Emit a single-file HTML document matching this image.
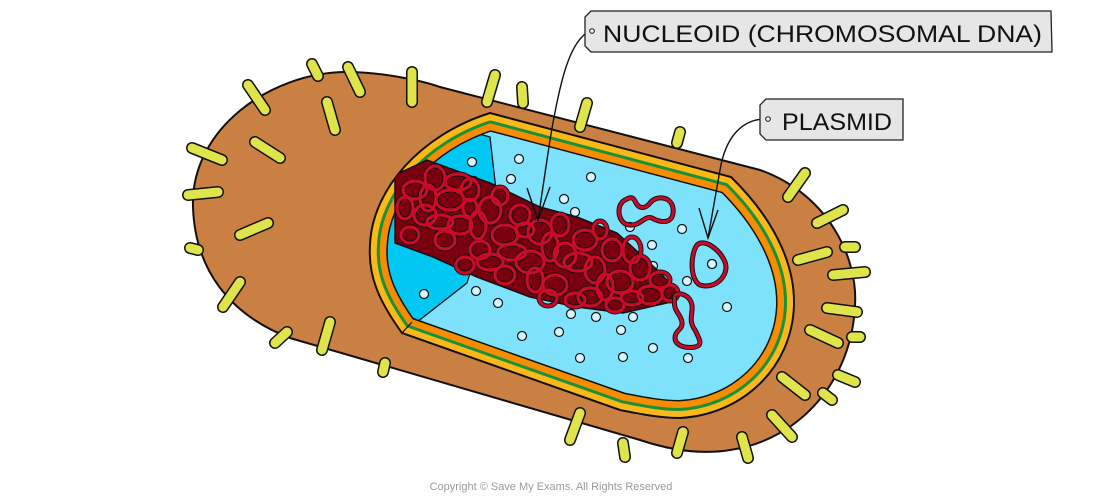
<!DOCTYPE html>
<html><head><meta charset="utf-8"><style>
html,body{margin:0;padding:0;background:#fff;width:1100px;height:499px;overflow:hidden}
svg{display:block}
</style></head><body>
<svg width="1100" height="499" viewBox="0 0 1100 499" xmlns="http://www.w3.org/2000/svg">
<defs>
<clipPath id="cut"><path id="cutp" d="M490,113 L731,177 C770,215 795,260 794,305 C792,370 740,415 680,418 C660,418 640,414 620,410 L402,333 C378,300 368,275 370,245 C372,190 420,135 490,113 Z"/></clipPath>
<g id="pl" stroke-linecap="round">
<line x1="312" y1="64" x2="318" y2="76"/><line x1="348" y1="67" x2="360" y2="92"/><line x1="412" y1="72" x2="412" y2="102"/>
<line x1="248" y1="85" x2="265" y2="110"/><line x1="327" y1="102" x2="335" y2="130"/><line x1="255" y1="142" x2="280" y2="158"/>
<line x1="192" y1="148" x2="222" y2="160"/><line x1="188" y1="195" x2="218" y2="192"/><line x1="240" y1="235" x2="268" y2="223"/>
<line x1="190" y1="248" x2="198" y2="250"/><line x1="223" y1="307" x2="240" y2="282"/><line x1="275" y1="343" x2="287" y2="332"/>
<line x1="322" y1="350" x2="330" y2="322"/><line x1="383" y1="372" x2="385" y2="363"/><line x1="487" y1="102" x2="495" y2="75"/>
<line x1="522" y1="87" x2="523" y2="103"/><line x1="580" y1="127" x2="587" y2="103"/><line x1="677" y1="143" x2="680" y2="132"/>
<line x1="788" y1="197" x2="805" y2="173"/><line x1="817" y1="223" x2="843" y2="210"/><line x1="845" y1="247" x2="855" y2="247"/>
<line x1="798" y1="260" x2="827" y2="252"/><line x1="833" y1="275" x2="865" y2="272"/><line x1="827" y1="308" x2="857" y2="312"/>
<line x1="852" y1="337" x2="860" y2="337"/><line x1="810" y1="330" x2="838" y2="343"/><line x1="838" y1="375" x2="855" y2="382"/>
<line x1="782" y1="377" x2="805" y2="395"/><line x1="823" y1="393" x2="832" y2="400"/><line x1="772" y1="415" x2="792" y2="437"/>
<line x1="742" y1="437" x2="748" y2="458"/><line x1="683" y1="432" x2="677" y2="453"/><line x1="580" y1="413" x2="570" y2="440"/>
<line x1="623" y1="443" x2="625" y2="457"/>
</g>
<g id="loops" fill="none">
<ellipse cx="415" cy="190" rx="12" ry="9"/><ellipse cx="435" cy="178" rx="10" ry="12"/><ellipse cx="450" cy="200" rx="14" ry="10"/>
<ellipse cx="425" cy="215" rx="11" ry="10"/><ellipse cx="470" cy="190" rx="9" ry="11"/><ellipse cx="460" cy="225" rx="12" ry="9"/>
<ellipse cx="490" cy="210" rx="11" ry="13"/><ellipse cx="505" cy="235" rx="13" ry="10"/><ellipse cx="480" cy="250" rx="10" ry="9"/>
<ellipse cx="520" cy="215" rx="10" ry="10"/><ellipse cx="540" cy="232" rx="12" ry="12"/><ellipse cx="530" cy="262" rx="14" ry="11"/>
<ellipse cx="560" cy="225" rx="9" ry="11"/><ellipse cx="565" cy="255" rx="11" ry="12"/><ellipse cx="555" cy="285" rx="12" ry="10"/>
<ellipse cx="585" cy="240" rx="12" ry="10"/><ellipse cx="595" cy="270" rx="10" ry="13"/><ellipse cx="590" cy="297" rx="12" ry="9"/>
<ellipse cx="612" cy="250" rx="10" ry="11"/><ellipse cx="620" cy="282" rx="13" ry="11"/><ellipse cx="640" cy="268" rx="10" ry="12"/>
<ellipse cx="650" cy="295" rx="12" ry="9"/><ellipse cx="670" cy="293" rx="8" ry="8"/><ellipse cx="505" cy="275" rx="10" ry="9"/>
<ellipse cx="445" cy="240" rx="10" ry="9"/><ellipse cx="410" cy="235" rx="9" ry="8"/><ellipse cx="500" cy="196" rx="8" ry="9"/>
<ellipse cx="548" cy="298" rx="9" ry="8"/><ellipse cx="615" cy="305" rx="9" ry="7"/><ellipse cx="465" cy="265" rx="9" ry="8"/>
<ellipse cx="428" cy="198" rx="8" ry="13"/><ellipse cx="458" cy="182" rx="13" ry="8"/><ellipse cx="478" cy="225" rx="8" ry="14"/>
<ellipse cx="512" cy="252" rx="14" ry="8"/><ellipse cx="550" cy="247" rx="8" ry="14"/><ellipse cx="578" cy="262" rx="14" ry="9"/>
<ellipse cx="605" cy="287" rx="8" ry="13"/><ellipse cx="632" cy="250" rx="9" ry="13"/><ellipse cx="660" cy="280" rx="10" ry="8"/>
<ellipse cx="535" cy="280" rx="8" ry="12"/><ellipse cx="490" cy="262" rx="13" ry="8"/><ellipse cx="440" cy="222" rx="13" ry="7"/>
<ellipse cx="575" cy="300" rx="10" ry="7"/><ellipse cx="525" cy="230" rx="9" ry="7"/><ellipse cx="405" cy="208" rx="8" ry="11"/>
<ellipse cx="632" cy="298" rx="11" ry="7"/><ellipse cx="600" cy="230" rx="7" ry="9"/><ellipse cx="470" cy="208" rx="7" ry="9"/>
</g>
<g id="pls" fill="none">
<path d="M625,200 C615,205 618,225 630,225 C640,226 645,215 652,218 C660,223 675,225 673,208 C671,196 656,195 650,203 C646,208 640,210 636,203 C633,196 630,197 625,200 Z"/>
<path d="M697,245 C690,255 690,280 700,285 C715,290 730,275 725,262 C720,250 705,238 697,245 Z"/>
<path d="M675,295 C680,292 690,295 692,305 C693,315 688,320 695,330 C700,340 703,345 695,347 C685,349 675,345 675,338 C675,330 683,330 682,322 C680,312 672,312 675,295"/>
</g>
</defs>
<!-- cell body -->
<path d="M193,207 C190,130 270,72 347,72 C380,72 420,80 440,87 L760,170 C830,195 858,260 855,305 C852,380 800,440 730,450 C700,455 670,450 640,440 L290,338 C230,315 195,270 193,207 Z" fill="#cb8043" stroke="#111" stroke-width="2"/>
<!-- pili -->
<use href="#pl" stroke="#111" stroke-width="12"/>
<use href="#pl" stroke="#dfe44a" stroke-width="9"/>
<!-- cut -->
<g clip-path="url(#cut)">
<rect x="360" y="100" width="450" height="330" fill="#7ee2fc"/>
<polygon points="360,100 490,137 496,190 467,283 403,333 360,340" fill="#00c8f2" stroke="#111" stroke-width="1.3"/>
<use href="#cutp" fill="none" stroke="#111" stroke-width="36"/>
<use href="#cutp" fill="none" stroke="#f68d00" stroke-width="33"/>
<use href="#cutp" fill="none" stroke="#17913a" stroke-width="20"/>
<use href="#cutp" fill="none" stroke="#fbb818" stroke-width="14"/>
</g>
<use href="#cutp" fill="none" stroke="#111" stroke-width="2"/>
<line x1="402" y1="333" x2="412" y2="322" stroke="#111" stroke-width="1.3"/>
<!-- ribosomes -->
<g fill="#d6f6ff" stroke="#111" stroke-width="1.2">
<circle cx="472" cy="162" r="4.5"/><circle cx="519" cy="159" r="4.5"/><circle cx="511" cy="179" r="4.5"/><circle cx="474" cy="181" r="4.5"/>
<circle cx="591" cy="177" r="4.5"/><circle cx="564" cy="199" r="4.5"/><circle cx="575" cy="212" r="4.5"/><circle cx="682" cy="229" r="4.5"/>
<circle cx="652" cy="245" r="4.5"/><circle cx="653" cy="266" r="4.5"/><circle cx="687" cy="281" r="4.5"/><circle cx="712" cy="264" r="4.5"/>
<circle cx="727" cy="307" r="4.5"/><circle cx="424" cy="294" r="4.5"/><circle cx="476" cy="291" r="4.5"/><circle cx="498" cy="303" r="4.5"/>
<circle cx="571" cy="314" r="4.5"/><circle cx="596" cy="317" r="4.5"/><circle cx="633" cy="317" r="4.5"/><circle cx="559" cy="332" r="4.5"/>
<circle cx="621" cy="330" r="4.5"/><circle cx="522" cy="336" r="4.5"/><circle cx="580" cy="358" r="4.5"/><circle cx="623" cy="357" r="4.5"/>
<circle cx="653" cy="348" r="4.5"/><circle cx="688" cy="358" r="4.5"/><circle cx="630" cy="227" r="4.5"/>
</g>
<!-- nucleoid -->
<g clip-path="url(#cut)">
<path d="M395,175 L427,160 L490,183 L540,207 L577,217 L617,233 L650,263 L677,290 L667,303 L623,313 L577,307 L530,297 L477,277 L433,257 L395,243 Z" fill="#7a0010" stroke="#111" stroke-width="1.5"/>
<use href="#loops" stroke="#111" stroke-width="5"/>
<use href="#loops" stroke="#cc0a28" stroke-width="3.2"/>
</g>
<!-- plasmids -->
<use href="#pls" stroke="#111" stroke-width="5"/>
<use href="#pls" stroke="#cc0a28" stroke-width="3"/>
<circle cx="712" cy="264" r="4.5" fill="#d6f6ff" stroke="#111" stroke-width="1.2"/>
<!-- labels -->
<g stroke="#111" stroke-width="1.4" fill="none">
<path d="M590,31 C570,40 560,80 550,140 L538,220"/>
<path d="M527,188 L538,220 L550,187"/>
<path d="M768,119 C740,118 725,140 720,170 L708,238"/>
<path d="M699,208 L708,238 L718,210"/>
</g>
<path d="M591,11 L1051,11 L1052,52 L591,52 L585,46 L585,17 Z" fill="#e6e6e6" stroke="#222" stroke-width="1.3"/>
<circle cx="592" cy="31" r="2.3" fill="#fff" stroke="#111" stroke-width="1"/>
<text x="603" y="42" font-family="Liberation Sans, sans-serif" font-size="24" fill="#111" textLength="439" lengthAdjust="spacingAndGlyphs">NUCLEOID (CHROMOSOMAL DNA)</text>
<path d="M766,99 L903,99 L903,140 L766,140 L760,134 L760,105 Z" fill="#e6e6e6" stroke="#222" stroke-width="1.3"/>
<circle cx="768" cy="119" r="2.3" fill="#fff" stroke="#111" stroke-width="1"/>
<text x="782" y="130" font-family="Liberation Sans, sans-serif" font-size="24" fill="#111" textLength="110" lengthAdjust="spacingAndGlyphs">PLASMID</text>
<text x="551" y="490" text-anchor="middle" font-family="Liberation Sans, sans-serif" font-size="11" fill="#9a9a9a">Copyright © Save My Exams. All Rights Reserved</text>
</svg>
</body></html>
